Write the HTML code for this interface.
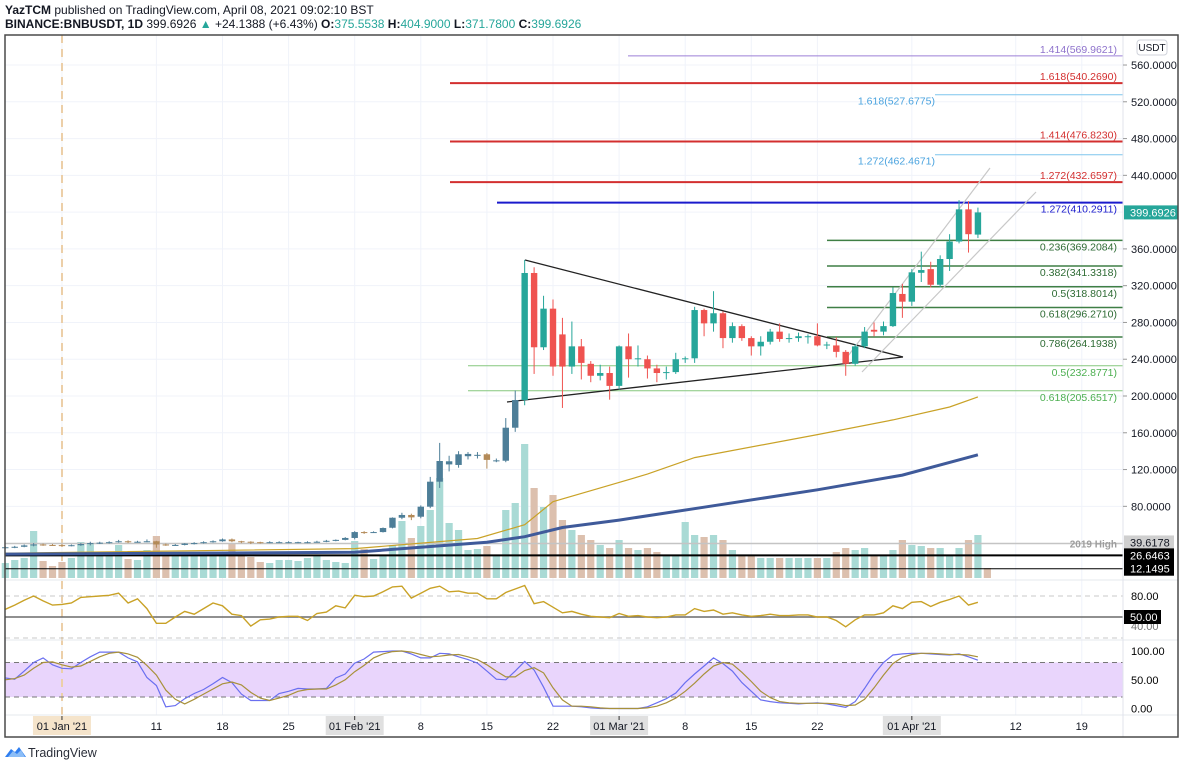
<!DOCTYPE html>
<html><head><meta charset="utf-8">
<style>
html,body{margin:0;padding:0;background:#fff;}
body{width:1186px;height:768px;overflow:hidden;position:relative;font-family:"Liberation Sans",sans-serif;color:#131722;}
#hdr1{position:absolute;left:5px;top:3px;font-size:12px;}
#hdr2{position:absolute;left:5px;top:17px;font-size:12px;}
.g{color:#26a69a}
svg{position:absolute;left:0;top:0;}
</style></head>
<body>
<div id="hdr1"><b>YazTCM</b> published on TradingView.com, April 08, 2021 09:02:10 BST</div>
<div id="hdr2"><b>BINANCE:BNBUSDT, 1D</b> 399.6926 <span class="g">▲</span> +24.1388 (+6.43%) <b>O:</b><span class="g">375.5538</span> <b>H:</b><span class="g">404.9000</span> <b>L:</b><span class="g">371.7800</span> <b>C:</b><span class="g">399.6926</span></div>
<svg id="chart" width="1186" height="768" xmlns="http://www.w3.org/2000/svg"></svg>
<script>
// ---- data ----
const startDate = "2020-12-26";
const opens = [35,35.5,36,37.5,38.5,38,37.8,37.6,37.7,39,40,40.5,41,42,41.5,41.5,42,38.5,38,38,39.5,40,41,42,44,42,41.5,41,40.5,41,41,41,41,41,41.5,42.5,43.5,
45.6,52,51.8,52,56.7,67.6,70.6,68.7,79.6,106.8,125.6,125,134.5,136,136.6,130,129.6,165.5,195.6,333.8,253,
295,267,232,254,235,222,225,
211,254,240,240,230,225,226,240,241,293.5,279,290,263,276,263,254,259,270,262,263,265,265,255,255,248,235,254,272,270,276,311,
302.6,334,338,321,349,368,403,375.55];
const highs = [36.5,37,38.5,40,39.5,39,38.5,38.5,40,41.5,41.5,42,43.5,43,42.5,44,42.5,39.5,39,40,41,42,43,45,45,42.5,42,41.5,42,42,42,41.5,42,42.5,43.5,44,46.5,
53,53,52.8,57,68,73,72,81,112,149,135,140,139,139,138,132,176,206,348,340,309,
305,285,281,262,238,234,232,
255,268,255,244,234,232,247,243,297,295,314,292,280,278,265,265,273,279,268,269,267,279,259,264,250,256,275,280,281,318,322,
338,357,346,353,376,413,412,404.9];
const lows = [34,34.5,35.5,36.5,37,37,36.5,36.5,37,37.5,39,39.5,40.5,40,40.5,41,35,37,37,37.5,38.5,39.5,40.5,41.5,41,40,39,39.5,40,40.5,40,40,40,40.5,41,42,43,
44,50,51,51.5,56,66,65,67,78,100,118,122,131,132,121,128,128,161,190,224,250,
222,187,224,218,215,217,196,
207,220,232,219,215,218,224,236,236,265,270,252,258,260,244,244,256,259,258,259,257,254,251,242,222,233,252,265,266,275,285,
298,324,318,318,336,366,356,371.78];
const closes = [35.5,36,37.5,38.5,38,37.8,37.6,37.7,39,40,40.5,41,42,41.5,41.5,42,38.5,38,38,39.5,40,41,42,44,42,41.5,41,40.5,41,41,41,41,41,41.5,42.5,43.5,45.6,
52,51.8,52,56.4,67.6,70.6,68,79.6,106.8,129.3,129,136.6,137,136,130.5,130,165.5,195.6,333.8,253,295,
232,232,254,236,222,225,211,
254,240,241,230,225,226,240,241,293.5,279,290,263,276,263,254,259,270,262,263,265,265,255,256,248,235,254,270,270,276,312,302.6,
334.5,337,321,349,368,403,376,399.69];
const volumes = [15,18,20,47,17,12,16,20,36,35,25,25,33,19,18,28,42,23,23,23,23,22,22,22,34,22,21,16,15,18,18,17,20,22,18,16,15,
37,29,19,23,33,57,40,52,68,100,55,48,28,29,32,22,68,75,134,90,71,
83,58,48,43,38,33,30,
38,30,28,30,26,23,23,56,43,41,43,38,28,23,23,20,20,20,20,20,20,20,20,26,30,28,30,23,23,28,38,33,
32,30,30,22,30,38,43,10];
const maSlowIdx = [0,37,50,55,58,62,68,73,86,94,100,103];
const maSlowVal = [29,34,45,60,85,97,115,133,158,174,188,199];
const maLongIdx = [0,37,51,55,59,65,74,86,95,103];
const maLongVal = [28,30,41,47,57,65,79,98,114,136];
const rsi = [61,67,74,80,73,67,68,70,78,79,80,81,84,70,76,62,41,41,50,58,54,62,70,66,54,52,37,46,47,50,51,51,45,55,57,66,63,
81,79,80,86,93,94,77,84,91,94,86,87,84,84,76,76,85,90,95,69,72,64,56,58,54,51,50,49,
55,51,52,50,49,50,53,53,62,58,60,54,56,53,51,52,54,52,52,53,53,50,50,45,36,46,53,53,56,66,62,
71,72,65,71,75,80,67,71];
const stochK = [53,51,65,80,88,76,70,69,80,90,98,98,98,88,81,54,40,3,5,17,26,33,43,54,45,25,14,14,14,26,30,35,34,34,35,53,60,
79,86,98,99,100,100,95,88,88,96,95,90,85,79,65,51,50,65,82,67,37,4,4,4,3,1,0,0,
0,0,0,3,10,17,27,45,60,74,88,78,65,45,30,15,12,10,9,8,9,10,8,5,2,12,35,60,80,93,95,
96,96,95,94,93,95,90,84];
const stochD = [50,52,58,70,80,81,76,72,74,82,90,96,98,95,89,75,58,32,16,8,16,25,34,43,46,41,28,18,14,18,23,30,33,34,34,41,50,
64,75,88,95,99,100,98,94,90,91,93,94,90,85,76,65,55,55,66,71,62,36,15,4,4,3,1,0,
0,0,0,1,4,10,18,30,44,60,74,80,77,63,47,30,19,12,10,9,9,9,9,8,5,6,16,36,58,78,89,
94,96,96,95,94,94,93,90];
const priceTicks = [560,520,480,440,360,320,280,240,200,160,120,80];
const fibPrices = [569.9621,540.2690,527.6775,476.8230,462.4671,432.6597,410.2911,369.2084,341.3318,318.8014,296.2710,264.1938,232.8771,205.6517];
const fibLabels = ["1.414","1.618","1.618","1.414","1.272","1.272","1.272","0.236","0.382","0.5","0.618","0.786","0.5","0.618"];
const dateLabelIdx = [6,16,23,30,37,44,51,58,65,72,79,86,96,107,114];
const dateLabels = ["01 Jan '21","11","18","25","01 Feb '21","8","15","22","01 Mar '21","8","15","22","01 Apr '21","12","19"];

// ---- scales ----
const X0 = 5.3, STEP = 9.443;
const xAt = i => X0 + i*STEP;
const yP = p => 396 - (p-200)*0.9194;
const yVol = v => 578 - v;
const yRsi = v => 617 - (v-50)*0.7;
const yStoch = v => 708.5 - v*0.575;
const R = 1123;

const svg = document.getElementById('chart');
const NS = 'http://www.w3.org/2000/svg';
function mk(tag, attrs, parent){ const e=document.createElementNS(NS,tag); for(const k in attrs) e.setAttribute(k,attrs[k]); (parent||svg).appendChild(e); return e; }
function txt(s, attrs, parent){ const e=mk('text',attrs,parent); e.textContent=s; return e; }

// grid
const grid = mk('g',{});


[560,520,480,440,400,360,320,280,240,200,160,120,80].forEach(p=>mk('line',{x1:5,x2:R,y1:yP(p),y2:yP(p),stroke:'#f0f3fa','stroke-width':1},grid));
dateLabelIdx.forEach(i=>mk('line',{x1:xAt(i),x2:xAt(i),y1:35,y2:715,stroke:'#f0f3fa','stroke-width':1},grid));
// stoch band
const band = mk('rect',{x:5,y:yStoch(80),width:R-5,height:yStoch(20)-yStoch(80),fill:'#e9d5fc'});


// jan 1 dashed line
mk('line',{x1:62,x2:62,y1:35,y2:715,stroke:'#eccfa8','stroke-width':2,'stroke-dasharray':'8,6'});

// volume
const vg = mk('g',{});


volumes.forEach((v,i)=>{
  const up = closes[i]>=opens[i];
  const r = mk('rect',{x:xAt(i)-3.6,y:yVol(v),width:7.2,height:v,fill: up?'#a9dad5':'#dcc0ae'},vg);
  
  
});

// 2019 high + support lines
const l2019 = mk('line',{x1:5,x2:R,y1:yP(39.6178),y2:yP(39.6178),stroke:'#c4c4c4','stroke-width':1.5});


txt('2019 High',{x:1117,y:yP(39.6178)+4,'font-size':10,'text-anchor':'end',fill:'#9e9e9e','font-weight':'bold'});
const lA = mk('line',{x1:5,x2:R,y1:yP(26.6463),y2:yP(26.6463),stroke:'#000','stroke-width':2});


const lB = mk('line',{x1:5,x2:R,y1:yP(12.1495),y2:yP(12.1495),stroke:'#000','stroke-width':1});



// moving averages
function ptsSparse(idx,val){ return idx.map((d,k)=>xAt(d).toFixed(1)+','+yP(val[k]).toFixed(1)).join(' '); }
const ma1 = mk('polyline',{points:ptsSparse(maSlowIdx,maSlowVal),fill:'none',stroke:'#c9a227','stroke-width':1.2});


const ma2 = mk('polyline',{points:ptsSparse(maLongIdx,maLongVal),fill:'none',stroke:'#3f5a9a','stroke-width':3});



// fib lines
const fibStart = [628,450,935,450,935,450,497,827,827,827,827,827,468,468];
const fibColors = ['#9c7fd6','#d32f2f','#7fc6ee','#d32f2f','#7fc6ee','#d32f2f','#1a1acc','#3f7f45','#3f7f45','#3f7f45','#3f7f45','#3f7f45','#86c77f','#86c77f'];
const fibText = ['#8e72cc','#d32f2f','#4aa3df','#d32f2f','#4aa3df','#d32f2f','#1a1acc','#2e6b34','#2e6b34','#2e6b34','#2e6b34','#2e6b34','#4caf50','#4caf50'];
const fibW = [1,2,1,2,1,2,2,1.5,1.5,1.5,1.5,1.5,1,1];
const fibBelow = [false,false,true,false,true,false,true,true,true,true,true,true,true,true];
fibPrices.forEach((p,k)=>{
  const y = yP(p);
  const ln = mk('line',{x1:fibStart[k],x2:R,y1:y,y2:y,stroke:fibColors[k],'stroke-width':fibW[k]});
  
  
  const lx = (fibStart[k]===935)? 935 : 1117;
  const t = txt(fibLabels[k]+'('+p.toFixed(4)+')',{x:lx,y: fibBelow[k]? y+10 : y-3,'font-size':10.5,'text-anchor':'end',fill:fibText[k]});
  
  
});

// triangle + channel
const tri = mk('g',{});


mk('line',{x1:525,y1:260,x2:903,y2:357,stroke:'#222','stroke-width':1.3},tri);
mk('line',{x1:507,y1:402,x2:903,y2:357,stroke:'#222','stroke-width':1.3},tri);
const ch = mk('g',{});


mk('line',{x1:848,y1:356,x2:990,y2:168,stroke:'#c8c8c8','stroke-width':1.2},ch);
mk('line',{x1:862,y1:372,x2:1036,y2:192,stroke:'#c8c8c8','stroke-width':1.2},ch);

// candles
const cg = mk('g',{});


closes.forEach((c,i)=>{
  const o=opens[i], up=c>=o, early=i<55;
  const col = early ? (up?'#4d7e98':'#b38a58') : (up?'#26a69a':'#ef5350');
  const x=xAt(i);
  mk('line',{x1:x,x2:x,y1:yP(highs[i]),y2:yP(lows[i]),stroke:col,'stroke-width':1},cg);
  const top=yP(Math.max(o,c)), bot=yP(Math.min(o,c));
  const r = mk('rect',{x:x-3.2,y:top,width:6.4,height:Math.max(1,bot-top),fill:col},cg);
  
  
});

// RSI pane
mk('line',{x1:5,x2:R,y1:yRsi(80),y2:yRsi(80),stroke:'#c8c8c8','stroke-dasharray':'5,4'});
mk('line',{x1:5,x2:R,y1:yRsi(20)+0,y2:yRsi(20)+0,stroke:'#c8c8c8','stroke-dasharray':'5,4',transform:'translate(0,0)'});
const rsi50 = mk('line',{x1:5,x2:R,y1:yRsi(50),y2:yRsi(50),stroke:'#6b6b6b','stroke-width':1.6});


const rsiLine = mk('polyline',{points:rsi.map((v,i)=>xAt(i).toFixed(1)+','+Math.min(yRsi(v),636).toFixed(1)).join(' '),fill:'none',stroke:'#c9a227','stroke-width':1.4});



// Stoch pane
mk('line',{x1:5,x2:R,y1:yStoch(80),y2:yStoch(80),stroke:'#777','stroke-dasharray':'5,4'});
mk('line',{x1:5,x2:R,y1:yStoch(20),y2:yStoch(20),stroke:'#777','stroke-dasharray':'5,4'});
const kLine = mk('polyline',{points:stochK.map((v,i)=>xAt(i).toFixed(1)+','+yStoch(v).toFixed(1)).join(' '),fill:'none',stroke:'#6a6ff0','stroke-width':1.2});


const dLine = mk('polyline',{points:stochD.map((v,i)=>xAt(i).toFixed(1)+','+yStoch(v).toFixed(1)).join(' '),fill:'none',stroke:'#a8913a','stroke-width':1.2});



// pane separators
[580,640,715].forEach(y=>mk('line',{x1:5,x2:1178,y1:y,y2:y,stroke:'#e6e8ee','stroke-width':1}));
mk('line',{x1:R,x2:R,y1:35,y2:737,stroke:'#e0e3eb','stroke-width':1});

// price axis
const pa = mk('g',{'font-size':11,fill:'#131722'});


priceTicks.forEach(p=>{ txt(p.toFixed(4),{x:1131,y:yP(p)+4},pa); mk('line',{x1:R,x2:R+4,y1:yP(p),y2:yP(p),stroke:'#999'},pa); });
const ub = mk('rect',{x:1137,y:40,width:30,height:15,rx:3,fill:'#fff',stroke:'#d0d3db'});


txt('USDT',{x:1152,y:51,'font-size':10,'text-anchor':'middle',fill:'#131722'});
function tag(val, y, bg, fg, w, name){
  const r = mk('rect',{x:1124,y:y-7,width:w,height:14,fill:bg});
  
  
  txt(val,{x:1130,y:y+4,'font-size':11,fill:fg});
}
tag('399.6926',yP(399.6926),'#26a69a','#fff',54,'last-price-tag');
tag('39.6178',yP(39.6178)-1,'#cfcfcf','#131722',50,'2019-high-tag');
tag('26.6463',yP(26.6463),'#000','#fff',50,'support-26-tag');
tag('12.1495',yP(12.1495),'#000','#fff',50,'support-12-tag');
// rsi axis
txt('80.00',{x:1131,y:yRsi(80)+4,'font-size':11});
txt('40.00',{x:1131,y:yRsi(40)+6,'font-size':11,fill:'#777'});
tag('50.00',yRsi(50),'#000','#fff',37,'rsi-50-tag');
txt('100.00',{x:1131,y:yStoch(100)+4,'font-size':11});
txt('50.00',{x:1131,y:yStoch(50)+4,'font-size':11});
txt('0.00',{x:1131,y:yStoch(0)+4,'font-size':11});

// time axis
const ta = mk('g',{'font-size':11,fill:'#131722','text-anchor':'middle'});


dateLabelIdx.forEach((d,k)=>{
  const x=xAt(d), lab=dateLabels[k];
  if(lab.length>3){
    mk('rect',{x:x-29,y:716,width:58,height:19,fill: k===0?'#f5e4cb':'#e0e0e0'},ta);
    mk('line',{x1:x,x2:x,y1:716,y2:720,stroke:'#333'},ta);
  }
  txt(lab,{x:x,y:730},ta);
});

// frame
const fr = mk('rect',{x:5,y:35,width:1173,height:702,fill:'none',stroke:'#4a4a4a','stroke-width':1.5});



// logo
const lg = mk('g',{});


mk('path',{d:'M5 757 L11 749 L15 752 L19 747 L26 757 Z',fill:'#2f7ef0'},lg);
mk('path',{d:'M8 757 L13 751 L17 754 L21 750 L25 757 Z',fill:'#8bbdf7'},lg);
txt('TradingView',{x:28,y:757,'font-size':12.5,fill:'#2a2e39'},lg);
</script>
</body></html>
